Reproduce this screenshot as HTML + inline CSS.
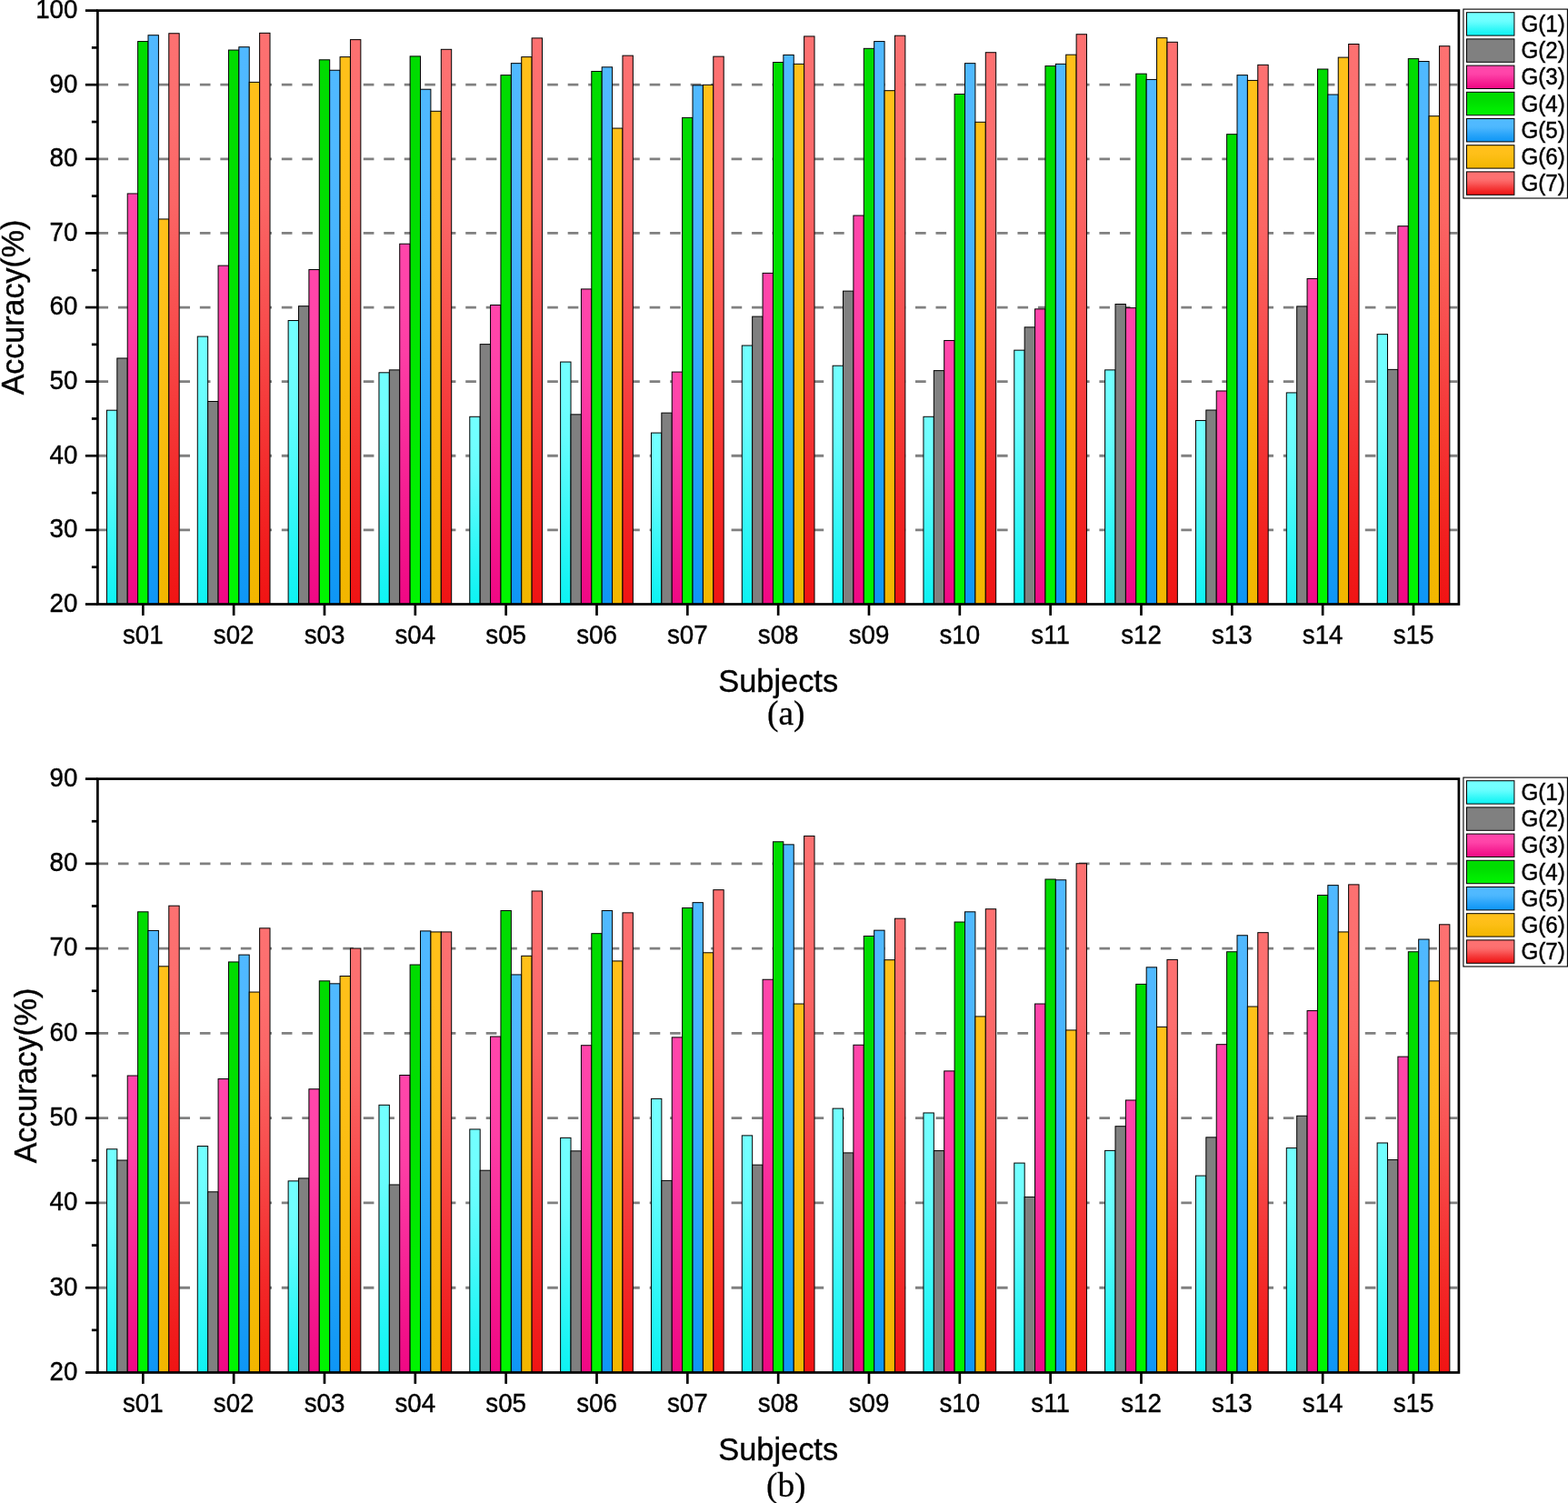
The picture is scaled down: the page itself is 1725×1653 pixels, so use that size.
<!DOCTYPE html>
<html lang="en">
<head>
<meta charset="utf-8">
<title>Accuracy per subject</title>
<style>
html,body{margin:0;padding:0;background:#fff}
body{width:1725px;height:1653px;overflow:hidden}
svg{display:block}
text{white-space:pre}
</style>
</head>
<body>
<svg width="1725" height="1653" viewBox="0 0 1725 1653">
<defs>
<linearGradient id="g0" x1="0" y1="0" x2="0" y2="1"><stop offset="0" stop-color="#73ffff"/><stop offset="0.15" stop-color="#70ffff"/><stop offset="0.3" stop-color="#66fdfd"/><stop offset="0.5" stop-color="#4dfafa"/><stop offset="0.67" stop-color="#35f8f8"/><stop offset="0.8" stop-color="#24f6f6"/><stop offset="0.91" stop-color="#17f4f4"/><stop offset="1" stop-color="#0ef3f3"/></linearGradient>
<linearGradient id="l0" x1="0" y1="0" x2="0" y2="1"><stop offset="0" stop-color="#73ffff"/><stop offset="0.27" stop-color="#73ffff"/><stop offset="0.38" stop-color="#6cfefe"/><stop offset="0.5" stop-color="#5afcfc"/><stop offset="0.67" stop-color="#3cf9f9"/><stop offset="0.8" stop-color="#28f6f6"/><stop offset="0.91" stop-color="#19f4f4"/><stop offset="1" stop-color="#0ef3f3"/></linearGradient>
<linearGradient id="g1" x1="0" y1="0" x2="0" y2="1"><stop offset="0" stop-color="#808080"/></linearGradient>
<linearGradient id="l1" x1="0" y1="0" x2="0" y2="1"><stop offset="0" stop-color="#808080"/></linearGradient>
<linearGradient id="g2" x1="0" y1="0" x2="0" y2="1"><stop offset="0" stop-color="#ff46aa"/><stop offset="0.15" stop-color="#ff44a9"/><stop offset="0.3" stop-color="#fd3ea5"/><stop offset="0.5" stop-color="#f92e9c"/><stop offset="0.67" stop-color="#f62093"/><stop offset="0.8" stop-color="#f3168c"/><stop offset="0.91" stop-color="#f10e87"/><stop offset="1" stop-color="#f00884"/></linearGradient>
<linearGradient id="l2" x1="0" y1="0" x2="0" y2="1"><stop offset="0" stop-color="#ff46aa"/><stop offset="0.27" stop-color="#ff46aa"/><stop offset="0.38" stop-color="#fe42a7"/><stop offset="0.5" stop-color="#fb36a0"/><stop offset="0.67" stop-color="#f72595"/><stop offset="0.8" stop-color="#f4188e"/><stop offset="0.91" stop-color="#f20f88"/><stop offset="1" stop-color="#f00884"/></linearGradient>
<linearGradient id="g3" x1="0" y1="0" x2="0" y2="1"><stop offset="0" stop-color="#00dc00"/><stop offset="0.15" stop-color="#00dd00"/><stop offset="0.3" stop-color="#00df00"/><stop offset="0.5" stop-color="#00e600"/><stop offset="0.67" stop-color="#00eb00"/><stop offset="0.8" stop-color="#00f000"/><stop offset="0.91" stop-color="#00f300"/><stop offset="1" stop-color="#00f500"/></linearGradient>
<linearGradient id="l3" x1="0" y1="0" x2="0" y2="1"><stop offset="0" stop-color="#00dc00"/><stop offset="0.27" stop-color="#00dc00"/><stop offset="0.38" stop-color="#00de00"/><stop offset="0.5" stop-color="#00e200"/><stop offset="0.67" stop-color="#00ea00"/><stop offset="0.8" stop-color="#00ee00"/><stop offset="0.91" stop-color="#00f200"/><stop offset="1" stop-color="#00f500"/></linearGradient>
<linearGradient id="g4" x1="0" y1="0" x2="0" y2="1"><stop offset="0" stop-color="#50b9ff"/><stop offset="0.15" stop-color="#4eb8ff"/><stop offset="0.3" stop-color="#47b4fe"/><stop offset="0.5" stop-color="#37acfb"/><stop offset="0.67" stop-color="#28a4f9"/><stop offset="0.8" stop-color="#1d9ef7"/><stop offset="0.91" stop-color="#1499f6"/><stop offset="1" stop-color="#0e96f5"/></linearGradient>
<linearGradient id="l4" x1="0" y1="0" x2="0" y2="1"><stop offset="0" stop-color="#50b9ff"/><stop offset="0.27" stop-color="#50b9ff"/><stop offset="0.38" stop-color="#4bb7fe"/><stop offset="0.5" stop-color="#40b0fc"/><stop offset="0.67" stop-color="#2ca6fa"/><stop offset="0.8" stop-color="#1f9ff8"/><stop offset="0.91" stop-color="#159af6"/><stop offset="1" stop-color="#0e96f5"/></linearGradient>
<linearGradient id="g5" x1="0" y1="0" x2="0" y2="1"><stop offset="0" stop-color="#ffc01a"/><stop offset="0.15" stop-color="#ffc019"/><stop offset="0.3" stop-color="#fdbf17"/><stop offset="0.5" stop-color="#fabc10"/><stop offset="0.67" stop-color="#f7ba0a"/><stop offset="0.8" stop-color="#f5b806"/><stop offset="0.91" stop-color="#f3b702"/><stop offset="1" stop-color="#f2b600"/></linearGradient>
<linearGradient id="l5" x1="0" y1="0" x2="0" y2="1"><stop offset="0" stop-color="#ffc01a"/><stop offset="0.27" stop-color="#ffc01a"/><stop offset="0.38" stop-color="#febf18"/><stop offset="0.5" stop-color="#fcbe14"/><stop offset="0.67" stop-color="#f8bb0c"/><stop offset="0.8" stop-color="#f5b907"/><stop offset="0.91" stop-color="#f3b703"/><stop offset="1" stop-color="#f2b600"/></linearGradient>
<linearGradient id="g6" x1="0" y1="0" x2="0" y2="1"><stop offset="0" stop-color="#fd7171"/><stop offset="0.15" stop-color="#fd6e6e"/><stop offset="0.3" stop-color="#fb6565"/><stop offset="0.5" stop-color="#f84e4e"/><stop offset="0.67" stop-color="#f53838"/><stop offset="0.8" stop-color="#f32828"/><stop offset="0.91" stop-color="#f11c1c"/><stop offset="1" stop-color="#f01414"/></linearGradient>
<linearGradient id="l6" x1="0" y1="0" x2="0" y2="1"><stop offset="0" stop-color="#fd7171"/><stop offset="0.27" stop-color="#fd7171"/><stop offset="0.38" stop-color="#fc6a6a"/><stop offset="0.5" stop-color="#fa5a5a"/><stop offset="0.67" stop-color="#f63f3f"/><stop offset="0.8" stop-color="#f32c2c"/><stop offset="0.91" stop-color="#f11e1e"/><stop offset="1" stop-color="#f01414"/></linearGradient>
</defs>
<rect width="1725" height="1653" fill="#fff"/>
<g stroke="#808080" stroke-width="2.8" stroke-dasharray="11.65 10.84" fill="none">
<line x1="107.4" y1="582.89" x2="1604.9" y2="582.89"/>
<line x1="107.4" y1="501.27" x2="1604.9" y2="501.27"/>
<line x1="107.4" y1="419.66" x2="1604.9" y2="419.66"/>
<line x1="107.4" y1="338.05" x2="1604.9" y2="338.05"/>
<line x1="107.4" y1="256.44" x2="1604.9" y2="256.44"/>
<line x1="107.4" y1="174.82" x2="1604.9" y2="174.82"/>
<line x1="107.4" y1="93.21" x2="1604.9" y2="93.21"/>
</g>
<g stroke="#000" stroke-width="1">
<rect x="117.45" y="451.19" width="11.39" height="213.31" fill="url(#g0)"/>
<rect x="128.84" y="393.98" width="11.39" height="270.52" fill="url(#g1)"/>
<rect x="140.23" y="212.96" width="11.39" height="451.54" fill="url(#g2)"/>
<rect x="151.62" y="45.57" width="11.39" height="618.93" fill="url(#g3)"/>
<rect x="163.01" y="38.72" width="11.39" height="625.78" fill="url(#g4)"/>
<rect x="174.4" y="240.95" width="11.39" height="423.55" fill="url(#g5)"/>
<rect x="185.79" y="36.76" width="11.39" height="627.74" fill="url(#g6)"/>
<rect x="217.28" y="370.07" width="11.39" height="294.43" fill="url(#g0)"/>
<rect x="228.67" y="441.48" width="11.39" height="223.02" fill="url(#g1)"/>
<rect x="240.06" y="292.13" width="11.39" height="372.37" fill="url(#g2)"/>
<rect x="251.45" y="55.04" width="11.39" height="609.46" fill="url(#g3)"/>
<rect x="262.84" y="51.7" width="11.39" height="612.8" fill="url(#g4)"/>
<rect x="274.23" y="90.38" width="11.39" height="574.12" fill="url(#g5)"/>
<rect x="285.62" y="36.35" width="11.39" height="628.15" fill="url(#g6)"/>
<rect x="317.12" y="352.52" width="11.39" height="311.98" fill="url(#g0)"/>
<rect x="328.51" y="336.69" width="11.39" height="327.81" fill="url(#g1)"/>
<rect x="339.9" y="296.53" width="11.39" height="367.97" fill="url(#g2)"/>
<rect x="351.29" y="65.81" width="11.39" height="598.69" fill="url(#g3)"/>
<rect x="362.68" y="77.24" width="11.39" height="587.26" fill="url(#g4)"/>
<rect x="374.07" y="62.63" width="11.39" height="601.87" fill="url(#g5)"/>
<rect x="385.46" y="43.62" width="11.39" height="620.88" fill="url(#g6)"/>
<rect x="416.95" y="409.81" width="11.39" height="254.69" fill="url(#g0)"/>
<rect x="428.34" y="406.87" width="11.39" height="257.63" fill="url(#g1)"/>
<rect x="439.73" y="268.21" width="11.39" height="396.29" fill="url(#g2)"/>
<rect x="451.12" y="61.9" width="11.39" height="602.6" fill="url(#g3)"/>
<rect x="462.51" y="98.21" width="11.39" height="566.29" fill="url(#g4)"/>
<rect x="473.9" y="122.29" width="11.39" height="542.21" fill="url(#g5)"/>
<rect x="485.29" y="54.31" width="11.39" height="610.19" fill="url(#g6)"/>
<rect x="516.78" y="458.29" width="11.39" height="206.21" fill="url(#g0)"/>
<rect x="528.17" y="378.63" width="11.39" height="285.87" fill="url(#g1)"/>
<rect x="539.56" y="335.46" width="11.39" height="329.04" fill="url(#g2)"/>
<rect x="550.95" y="82.63" width="11.39" height="581.87" fill="url(#g3)"/>
<rect x="562.35" y="69.65" width="11.39" height="594.85" fill="url(#g4)"/>
<rect x="573.74" y="62.63" width="11.39" height="601.87" fill="url(#g5)"/>
<rect x="585.12" y="41.9" width="11.39" height="622.6" fill="url(#g6)"/>
<rect x="616.62" y="398.06" width="11.39" height="266.44" fill="url(#g0)"/>
<rect x="628.01" y="455.84" width="11.39" height="208.66" fill="url(#g1)"/>
<rect x="639.4" y="317.92" width="11.39" height="346.58" fill="url(#g2)"/>
<rect x="650.79" y="78.46" width="11.39" height="586.04" fill="url(#g3)"/>
<rect x="662.18" y="73.81" width="11.39" height="590.69" fill="url(#g4)"/>
<rect x="673.57" y="141.06" width="11.39" height="523.44" fill="url(#g5)"/>
<rect x="684.96" y="61.16" width="11.39" height="603.34" fill="url(#g6)"/>
<rect x="716.45" y="476.08" width="11.39" height="188.42" fill="url(#g0)"/>
<rect x="727.84" y="454.13" width="11.39" height="210.37" fill="url(#g1)"/>
<rect x="739.23" y="409.08" width="11.39" height="255.42" fill="url(#g2)"/>
<rect x="750.62" y="129.39" width="11.39" height="535.11" fill="url(#g3)"/>
<rect x="762.01" y="93.81" width="11.39" height="570.69" fill="url(#g4)"/>
<rect x="773.4" y="93.32" width="11.39" height="571.18" fill="url(#g5)"/>
<rect x="784.79" y="62.14" width="11.39" height="602.36" fill="url(#g6)"/>
<rect x="816.28" y="380.02" width="11.39" height="284.48" fill="url(#g0)"/>
<rect x="827.67" y="348.11" width="11.39" height="316.39" fill="url(#g1)"/>
<rect x="839.06" y="300.37" width="11.39" height="364.13" fill="url(#g2)"/>
<rect x="850.45" y="68.51" width="11.39" height="595.99" fill="url(#g3)"/>
<rect x="861.85" y="60.43" width="11.39" height="604.07" fill="url(#g4)"/>
<rect x="873.24" y="70.38" width="11.39" height="594.12" fill="url(#g5)"/>
<rect x="884.62" y="39.94" width="11.39" height="624.56" fill="url(#g6)"/>
<rect x="916.12" y="402.22" width="11.39" height="262.28" fill="url(#g0)"/>
<rect x="927.51" y="320.12" width="11.39" height="344.38" fill="url(#g1)"/>
<rect x="938.9" y="237.04" width="11.39" height="427.46" fill="url(#g2)"/>
<rect x="950.29" y="53.33" width="11.39" height="611.17" fill="url(#g3)"/>
<rect x="961.68" y="45.57" width="11.39" height="618.93" fill="url(#g4)"/>
<rect x="973.07" y="99.68" width="11.39" height="564.82" fill="url(#g5)"/>
<rect x="984.46" y="39.21" width="11.39" height="625.29" fill="url(#g6)"/>
<rect x="1015.95" y="458.29" width="11.39" height="206.21" fill="url(#g0)"/>
<rect x="1027.34" y="407.61" width="11.39" height="256.89" fill="url(#g1)"/>
<rect x="1038.73" y="374.47" width="11.39" height="290.03" fill="url(#g2)"/>
<rect x="1050.12" y="103.52" width="11.39" height="560.98" fill="url(#g3)"/>
<rect x="1061.51" y="69.65" width="11.39" height="594.85" fill="url(#g4)"/>
<rect x="1072.9" y="134.29" width="11.39" height="530.21" fill="url(#g5)"/>
<rect x="1084.29" y="57.73" width="11.39" height="606.77" fill="url(#g6)"/>
<rect x="1115.79" y="385.16" width="11.39" height="279.34" fill="url(#g0)"/>
<rect x="1127.18" y="359.86" width="11.39" height="304.64" fill="url(#g1)"/>
<rect x="1138.57" y="339.87" width="11.39" height="324.63" fill="url(#g2)"/>
<rect x="1149.96" y="72.59" width="11.39" height="591.91" fill="url(#g3)"/>
<rect x="1161.35" y="70.38" width="11.39" height="594.12" fill="url(#g4)"/>
<rect x="1172.74" y="60.18" width="11.39" height="604.32" fill="url(#g5)"/>
<rect x="1184.12" y="37.74" width="11.39" height="626.76" fill="url(#g6)"/>
<rect x="1215.62" y="406.87" width="11.39" height="257.63" fill="url(#g0)"/>
<rect x="1227.01" y="334.48" width="11.39" height="330.02" fill="url(#g1)"/>
<rect x="1238.4" y="338.64" width="11.39" height="325.86" fill="url(#g2)"/>
<rect x="1249.79" y="81.16" width="11.39" height="583.34" fill="url(#g3)"/>
<rect x="1261.18" y="87.44" width="11.39" height="577.06" fill="url(#g4)"/>
<rect x="1272.57" y="41.66" width="11.39" height="622.84" fill="url(#g5)"/>
<rect x="1283.96" y="46.31" width="11.39" height="618.19" fill="url(#g6)"/>
<rect x="1315.45" y="462.45" width="11.39" height="202.05" fill="url(#g0)"/>
<rect x="1326.84" y="451.03" width="11.39" height="213.47" fill="url(#g1)"/>
<rect x="1338.23" y="429.97" width="11.39" height="234.53" fill="url(#g2)"/>
<rect x="1349.62" y="147.67" width="11.39" height="516.83" fill="url(#g3)"/>
<rect x="1361.01" y="82.63" width="11.39" height="581.87" fill="url(#g4)"/>
<rect x="1372.4" y="88.42" width="11.39" height="576.08" fill="url(#g5)"/>
<rect x="1383.79" y="71.36" width="11.39" height="593.14" fill="url(#g6)"/>
<rect x="1415.29" y="431.93" width="11.39" height="232.57" fill="url(#g0)"/>
<rect x="1426.68" y="336.93" width="11.39" height="327.57" fill="url(#g1)"/>
<rect x="1438.07" y="306.49" width="11.39" height="358.01" fill="url(#g2)"/>
<rect x="1449.46" y="76.02" width="11.39" height="588.48" fill="url(#g3)"/>
<rect x="1460.85" y="104.01" width="11.39" height="560.49" fill="url(#g4)"/>
<rect x="1472.24" y="63.12" width="11.39" height="601.38" fill="url(#g5)"/>
<rect x="1483.62" y="48.51" width="11.39" height="615.99" fill="url(#g6)"/>
<rect x="1515.12" y="367.62" width="11.39" height="296.88" fill="url(#g0)"/>
<rect x="1526.51" y="406.38" width="11.39" height="258.12" fill="url(#g1)"/>
<rect x="1537.9" y="248.71" width="11.39" height="415.79" fill="url(#g2)"/>
<rect x="1549.29" y="64.59" width="11.39" height="599.91" fill="url(#g3)"/>
<rect x="1560.68" y="67.53" width="11.39" height="596.97" fill="url(#g4)"/>
<rect x="1572.07" y="127.68" width="11.39" height="536.82" fill="url(#g5)"/>
<rect x="1583.46" y="50.72" width="11.39" height="613.78" fill="url(#g6)"/>
</g>
<g stroke="#000" stroke-width="2.7" fill="none">
<line x1="93.9" y1="664.5" x2="107.4" y2="664.5"/>
<line x1="100.9" y1="623.69" x2="107.4" y2="623.69"/>
<line x1="93.9" y1="582.89" x2="107.4" y2="582.89"/>
<line x1="100.9" y1="542.08" x2="107.4" y2="542.08"/>
<line x1="93.9" y1="501.27" x2="107.4" y2="501.27"/>
<line x1="100.9" y1="460.47" x2="107.4" y2="460.47"/>
<line x1="93.9" y1="419.66" x2="107.4" y2="419.66"/>
<line x1="100.9" y1="378.86" x2="107.4" y2="378.86"/>
<line x1="93.9" y1="338.05" x2="107.4" y2="338.05"/>
<line x1="100.9" y1="297.24" x2="107.4" y2="297.24"/>
<line x1="93.9" y1="256.44" x2="107.4" y2="256.44"/>
<line x1="100.9" y1="215.63" x2="107.4" y2="215.63"/>
<line x1="93.9" y1="174.82" x2="107.4" y2="174.82"/>
<line x1="100.9" y1="134.02" x2="107.4" y2="134.02"/>
<line x1="93.9" y1="93.21" x2="107.4" y2="93.21"/>
<line x1="100.9" y1="52.41" x2="107.4" y2="52.41"/>
<line x1="93.9" y1="11.6" x2="107.4" y2="11.6"/>
<line x1="157.32" y1="664.5" x2="157.32" y2="676.9"/>
<line x1="257.15" y1="664.5" x2="257.15" y2="676.9"/>
<line x1="356.98" y1="664.5" x2="356.98" y2="676.9"/>
<line x1="456.82" y1="664.5" x2="456.82" y2="676.9"/>
<line x1="556.65" y1="664.5" x2="556.65" y2="676.9"/>
<line x1="656.48" y1="664.5" x2="656.48" y2="676.9"/>
<line x1="756.32" y1="664.5" x2="756.32" y2="676.9"/>
<line x1="856.15" y1="664.5" x2="856.15" y2="676.9"/>
<line x1="955.98" y1="664.5" x2="955.98" y2="676.9"/>
<line x1="1055.82" y1="664.5" x2="1055.82" y2="676.9"/>
<line x1="1155.65" y1="664.5" x2="1155.65" y2="676.9"/>
<line x1="1255.48" y1="664.5" x2="1255.48" y2="676.9"/>
<line x1="1355.32" y1="664.5" x2="1355.32" y2="676.9"/>
<line x1="1455.15" y1="664.5" x2="1455.15" y2="676.9"/>
<line x1="1554.98" y1="664.5" x2="1554.98" y2="676.9"/>
<rect x="107.4" y="11.6" width="1497.5" height="652.9"/>
</g>
<g font-family="'Liberation Sans', sans-serif" font-size="27.7" fill="#000">
<g text-anchor="end">
<text transform="translate(85.4 672.8) scale(1 1.06)" text-anchor="end" font-family="'Liberation Sans', sans-serif" font-size="27.7" fill="#000" stroke="#000" stroke-width="0.4">20</text>
<text transform="translate(85.4 591.19) scale(1 1.06)" text-anchor="end" font-family="'Liberation Sans', sans-serif" font-size="27.7" fill="#000" stroke="#000" stroke-width="0.4">30</text>
<text transform="translate(85.4 509.57) scale(1 1.06)" text-anchor="end" font-family="'Liberation Sans', sans-serif" font-size="27.7" fill="#000" stroke="#000" stroke-width="0.4">40</text>
<text transform="translate(85.4 427.96) scale(1 1.06)" text-anchor="end" font-family="'Liberation Sans', sans-serif" font-size="27.7" fill="#000" stroke="#000" stroke-width="0.4">50</text>
<text transform="translate(85.4 346.35) scale(1 1.06)" text-anchor="end" font-family="'Liberation Sans', sans-serif" font-size="27.7" fill="#000" stroke="#000" stroke-width="0.4">60</text>
<text transform="translate(85.4 264.74) scale(1 1.06)" text-anchor="end" font-family="'Liberation Sans', sans-serif" font-size="27.7" fill="#000" stroke="#000" stroke-width="0.4">70</text>
<text transform="translate(85.4 183.12) scale(1 1.06)" text-anchor="end" font-family="'Liberation Sans', sans-serif" font-size="27.7" fill="#000" stroke="#000" stroke-width="0.4">80</text>
<text transform="translate(85.4 101.51) scale(1 1.06)" text-anchor="end" font-family="'Liberation Sans', sans-serif" font-size="27.7" fill="#000" stroke="#000" stroke-width="0.4">90</text>
<text transform="translate(85.4 19.9) scale(1 1.06)" text-anchor="end" font-family="'Liberation Sans', sans-serif" font-size="27.7" fill="#000" stroke="#000" stroke-width="0.4">100</text>
</g>
<g text-anchor="middle">
<text transform="translate(157.32 707.9) scale(1 1.06)" text-anchor="middle" font-family="'Liberation Sans', sans-serif" font-size="27.7" fill="#000" stroke="#000" stroke-width="0.4">s01</text>
<text transform="translate(257.15 707.9) scale(1 1.06)" text-anchor="middle" font-family="'Liberation Sans', sans-serif" font-size="27.7" fill="#000" stroke="#000" stroke-width="0.4">s02</text>
<text transform="translate(356.98 707.9) scale(1 1.06)" text-anchor="middle" font-family="'Liberation Sans', sans-serif" font-size="27.7" fill="#000" stroke="#000" stroke-width="0.4">s03</text>
<text transform="translate(456.82 707.9) scale(1 1.06)" text-anchor="middle" font-family="'Liberation Sans', sans-serif" font-size="27.7" fill="#000" stroke="#000" stroke-width="0.4">s04</text>
<text transform="translate(556.65 707.9) scale(1 1.06)" text-anchor="middle" font-family="'Liberation Sans', sans-serif" font-size="27.7" fill="#000" stroke="#000" stroke-width="0.4">s05</text>
<text transform="translate(656.48 707.9) scale(1 1.06)" text-anchor="middle" font-family="'Liberation Sans', sans-serif" font-size="27.7" fill="#000" stroke="#000" stroke-width="0.4">s06</text>
<text transform="translate(756.32 707.9) scale(1 1.06)" text-anchor="middle" font-family="'Liberation Sans', sans-serif" font-size="27.7" fill="#000" stroke="#000" stroke-width="0.4">s07</text>
<text transform="translate(856.15 707.9) scale(1 1.06)" text-anchor="middle" font-family="'Liberation Sans', sans-serif" font-size="27.7" fill="#000" stroke="#000" stroke-width="0.4">s08</text>
<text transform="translate(955.98 707.9) scale(1 1.06)" text-anchor="middle" font-family="'Liberation Sans', sans-serif" font-size="27.7" fill="#000" stroke="#000" stroke-width="0.4">s09</text>
<text transform="translate(1055.82 707.9) scale(1 1.06)" text-anchor="middle" font-family="'Liberation Sans', sans-serif" font-size="27.7" fill="#000" stroke="#000" stroke-width="0.4">s10</text>
<text transform="translate(1155.65 707.9) scale(1 1.06)" text-anchor="middle" font-family="'Liberation Sans', sans-serif" font-size="27.7" fill="#000" stroke="#000" stroke-width="0.4">s11</text>
<text transform="translate(1255.48 707.9) scale(1 1.06)" text-anchor="middle" font-family="'Liberation Sans', sans-serif" font-size="27.7" fill="#000" stroke="#000" stroke-width="0.4">s12</text>
<text transform="translate(1355.32 707.9) scale(1 1.06)" text-anchor="middle" font-family="'Liberation Sans', sans-serif" font-size="27.7" fill="#000" stroke="#000" stroke-width="0.4">s13</text>
<text transform="translate(1455.15 707.9) scale(1 1.06)" text-anchor="middle" font-family="'Liberation Sans', sans-serif" font-size="27.7" fill="#000" stroke="#000" stroke-width="0.4">s14</text>
<text transform="translate(1554.98 707.9) scale(1 1.06)" text-anchor="middle" font-family="'Liberation Sans', sans-serif" font-size="27.7" fill="#000" stroke="#000" stroke-width="0.4">s15</text>
</g>
</g>
<text transform="translate(856.15 760.5) scale(1 1.04)" text-anchor="middle" font-family="'Liberation Sans', sans-serif" font-size="34.4" fill="#000" stroke="#000" stroke-width="0.4">Subjects</text>
<clipPath id="cp11"><rect x="0.3" y="11.6" width="60" height="652.9"/></clipPath>
<g clip-path="url(#cp11)">
<text transform="translate(25.5 338.05) rotate(-90) scale(1 1.04)" text-anchor="middle" font-family="'Liberation Sans', sans-serif" font-size="34" fill="#000" stroke="#000" stroke-width="0.4">Accuracy(%)</text>
</g>
<text transform="translate(864.8 797.2)" text-anchor="middle" font-family="'Liberation Serif', serif" font-size="37.3" fill="#000" stroke="#000" stroke-width="0.3">(a)</text>
<rect x="1609.9" y="10.1" width="114.5" height="207.9" fill="#fff" stroke="#000" stroke-width="1.1"/>
<g stroke="#000" stroke-width="1">
<rect x="1613.5" y="13.7" width="52.4" height="25.4" fill="url(#l0)"/>
<rect x="1613.5" y="42.9" width="52.4" height="25.4" fill="url(#l1)"/>
<rect x="1613.5" y="72.1" width="52.4" height="25.4" fill="url(#l2)"/>
<rect x="1613.5" y="101.3" width="52.4" height="25.4" fill="url(#l3)"/>
<rect x="1613.5" y="130.5" width="52.4" height="25.4" fill="url(#l4)"/>
<rect x="1613.5" y="159.7" width="52.4" height="25.4" fill="url(#l5)"/>
<rect x="1613.5" y="188.9" width="52.4" height="25.4" fill="url(#l6)"/>
</g>
<g font-family="'Liberation Sans', sans-serif" font-size="24.2" fill="#000">
<text transform="translate(1673.4 35) scale(1 1.04)" font-family="'Liberation Sans', sans-serif" font-size="24.2" fill="#000" stroke="#000" stroke-width="0.4">G(1)</text>
<text transform="translate(1673.4 64.2) scale(1 1.04)" font-family="'Liberation Sans', sans-serif" font-size="24.2" fill="#000" stroke="#000" stroke-width="0.4">G(2)</text>
<text transform="translate(1673.4 93.4) scale(1 1.04)" font-family="'Liberation Sans', sans-serif" font-size="24.2" fill="#000" stroke="#000" stroke-width="0.4">G(3)</text>
<text transform="translate(1673.4 122.6) scale(1 1.04)" font-family="'Liberation Sans', sans-serif" font-size="24.2" fill="#000" stroke="#000" stroke-width="0.4">G(4)</text>
<text transform="translate(1673.4 151.8) scale(1 1.04)" font-family="'Liberation Sans', sans-serif" font-size="24.2" fill="#000" stroke="#000" stroke-width="0.4">G(5)</text>
<text transform="translate(1673.4 181) scale(1 1.04)" font-family="'Liberation Sans', sans-serif" font-size="24.2" fill="#000" stroke="#000" stroke-width="0.4">G(6)</text>
<text transform="translate(1673.4 210.2) scale(1 1.04)" font-family="'Liberation Sans', sans-serif" font-size="24.2" fill="#000" stroke="#000" stroke-width="0.4">G(7)</text>
</g>
<g stroke="#808080" stroke-width="2.8" stroke-dasharray="11.65 10.84" fill="none">
<line x1="107.4" y1="1416.23" x2="1604.9" y2="1416.23"/>
<line x1="107.4" y1="1322.96" x2="1604.9" y2="1322.96"/>
<line x1="107.4" y1="1229.69" x2="1604.9" y2="1229.69"/>
<line x1="107.4" y1="1136.41" x2="1604.9" y2="1136.41"/>
<line x1="107.4" y1="1043.14" x2="1604.9" y2="1043.14"/>
<line x1="107.4" y1="949.87" x2="1604.9" y2="949.87"/>
</g>
<g stroke="#000" stroke-width="1">
<rect x="117.45" y="1263.8" width="11.39" height="245.7" fill="url(#g0)"/>
<rect x="128.84" y="1276.02" width="11.39" height="233.48" fill="url(#g1)"/>
<rect x="140.23" y="1183.03" width="11.39" height="326.47" fill="url(#g2)"/>
<rect x="151.62" y="1002.83" width="11.39" height="506.67" fill="url(#g3)"/>
<rect x="163.01" y="1023.44" width="11.39" height="486.06" fill="url(#g4)"/>
<rect x="174.4" y="1062.8" width="11.39" height="446.7" fill="url(#g5)"/>
<rect x="185.79" y="996.2" width="11.39" height="513.3" fill="url(#g6)"/>
<rect x="217.28" y="1260.54" width="11.39" height="248.96" fill="url(#g0)"/>
<rect x="228.67" y="1310.81" width="11.39" height="198.69" fill="url(#g1)"/>
<rect x="240.06" y="1186.57" width="11.39" height="322.93" fill="url(#g2)"/>
<rect x="251.45" y="1057.95" width="11.39" height="451.55" fill="url(#g3)"/>
<rect x="262.84" y="1050.12" width="11.39" height="459.38" fill="url(#g4)"/>
<rect x="274.23" y="1091.06" width="11.39" height="418.44" fill="url(#g5)"/>
<rect x="285.62" y="1020.83" width="11.39" height="488.67" fill="url(#g6)"/>
<rect x="317.12" y="1298.87" width="11.39" height="210.63" fill="url(#g0)"/>
<rect x="328.51" y="1295.89" width="11.39" height="213.61" fill="url(#g1)"/>
<rect x="339.9" y="1197.76" width="11.39" height="311.74" fill="url(#g2)"/>
<rect x="351.29" y="1078.84" width="11.39" height="430.66" fill="url(#g3)"/>
<rect x="362.68" y="1081.83" width="11.39" height="427.67" fill="url(#g4)"/>
<rect x="374.07" y="1073.53" width="11.39" height="435.97" fill="url(#g5)"/>
<rect x="385.46" y="1043.03" width="11.39" height="466.47" fill="url(#g6)"/>
<rect x="416.95" y="1215.3" width="11.39" height="294.2" fill="url(#g0)"/>
<rect x="428.34" y="1302.97" width="11.39" height="206.53" fill="url(#g1)"/>
<rect x="439.73" y="1182.47" width="11.39" height="327.03" fill="url(#g2)"/>
<rect x="451.12" y="1061.03" width="11.39" height="448.47" fill="url(#g3)"/>
<rect x="462.51" y="1023.91" width="11.39" height="485.59" fill="url(#g4)"/>
<rect x="473.9" y="1024.93" width="11.39" height="484.57" fill="url(#g5)"/>
<rect x="485.29" y="1024.93" width="11.39" height="484.57" fill="url(#g6)"/>
<rect x="516.78" y="1241.97" width="11.39" height="267.53" fill="url(#g0)"/>
<rect x="528.17" y="1287.21" width="11.39" height="222.29" fill="url(#g1)"/>
<rect x="539.56" y="1140.03" width="11.39" height="369.47" fill="url(#g2)"/>
<rect x="550.95" y="1001.52" width="11.39" height="507.98" fill="url(#g3)"/>
<rect x="562.35" y="1071.94" width="11.39" height="437.56" fill="url(#g4)"/>
<rect x="573.74" y="1051.33" width="11.39" height="458.17" fill="url(#g5)"/>
<rect x="585.12" y="979.98" width="11.39" height="529.52" fill="url(#g6)"/>
<rect x="616.62" y="1251.39" width="11.39" height="258.11" fill="url(#g0)"/>
<rect x="628.01" y="1265.85" width="11.39" height="243.65" fill="url(#g1)"/>
<rect x="639.4" y="1149.73" width="11.39" height="359.77" fill="url(#g2)"/>
<rect x="650.79" y="1026.7" width="11.39" height="482.8" fill="url(#g3)"/>
<rect x="662.18" y="1001.52" width="11.39" height="507.98" fill="url(#g4)"/>
<rect x="673.57" y="1056.92" width="11.39" height="452.58" fill="url(#g5)"/>
<rect x="684.96" y="1003.85" width="11.39" height="505.65" fill="url(#g6)"/>
<rect x="716.45" y="1208.4" width="11.39" height="301.1" fill="url(#g0)"/>
<rect x="727.84" y="1298.4" width="11.39" height="211.1" fill="url(#g1)"/>
<rect x="739.23" y="1140.87" width="11.39" height="368.63" fill="url(#g2)"/>
<rect x="750.62" y="998.54" width="11.39" height="510.96" fill="url(#g3)"/>
<rect x="762.01" y="992.66" width="11.39" height="516.84" fill="url(#g4)"/>
<rect x="773.4" y="1047.78" width="11.39" height="461.72" fill="url(#g5)"/>
<rect x="784.79" y="978.67" width="11.39" height="530.83" fill="url(#g6)"/>
<rect x="816.28" y="1248.88" width="11.39" height="260.62" fill="url(#g0)"/>
<rect x="827.67" y="1281.15" width="11.39" height="228.35" fill="url(#g1)"/>
<rect x="839.06" y="1077.26" width="11.39" height="432.24" fill="url(#g2)"/>
<rect x="850.45" y="925.78" width="11.39" height="583.72" fill="url(#g3)"/>
<rect x="861.85" y="928.86" width="11.39" height="580.64" fill="url(#g4)"/>
<rect x="873.24" y="1104.03" width="11.39" height="405.47" fill="url(#g5)"/>
<rect x="884.62" y="919.44" width="11.39" height="590.06" fill="url(#g6)"/>
<rect x="916.12" y="1219.12" width="11.39" height="290.38" fill="url(#g0)"/>
<rect x="927.51" y="1267.9" width="11.39" height="241.6" fill="url(#g1)"/>
<rect x="938.9" y="1149.26" width="11.39" height="360.24" fill="url(#g2)"/>
<rect x="950.29" y="1029.5" width="11.39" height="480" fill="url(#g3)"/>
<rect x="961.68" y="1023.16" width="11.39" height="486.34" fill="url(#g4)"/>
<rect x="973.07" y="1055.71" width="11.39" height="453.79" fill="url(#g5)"/>
<rect x="984.46" y="1010.19" width="11.39" height="499.31" fill="url(#g6)"/>
<rect x="1015.95" y="1223.97" width="11.39" height="285.53" fill="url(#g0)"/>
<rect x="1027.34" y="1265.57" width="11.39" height="243.93" fill="url(#g1)"/>
<rect x="1038.73" y="1177.9" width="11.39" height="331.6" fill="url(#g2)"/>
<rect x="1050.12" y="1014.02" width="11.39" height="495.48" fill="url(#g3)"/>
<rect x="1061.51" y="1002.83" width="11.39" height="506.67" fill="url(#g4)"/>
<rect x="1072.9" y="1117.92" width="11.39" height="391.58" fill="url(#g5)"/>
<rect x="1084.29" y="999.75" width="11.39" height="509.75" fill="url(#g6)"/>
<rect x="1115.79" y="1279.1" width="11.39" height="230.4" fill="url(#g0)"/>
<rect x="1127.18" y="1316.41" width="11.39" height="193.09" fill="url(#g1)"/>
<rect x="1138.57" y="1104.03" width="11.39" height="405.47" fill="url(#g2)"/>
<rect x="1149.96" y="967.01" width="11.39" height="542.49" fill="url(#g3)"/>
<rect x="1161.35" y="967.76" width="11.39" height="541.74" fill="url(#g4)"/>
<rect x="1172.74" y="1132.94" width="11.39" height="376.56" fill="url(#g5)"/>
<rect x="1184.12" y="949.76" width="11.39" height="559.74" fill="url(#g6)"/>
<rect x="1215.62" y="1265.39" width="11.39" height="244.11" fill="url(#g0)"/>
<rect x="1227.01" y="1238.71" width="11.39" height="270.79" fill="url(#g1)"/>
<rect x="1238.4" y="1209.98" width="11.39" height="299.52" fill="url(#g2)"/>
<rect x="1249.79" y="1082.39" width="11.39" height="427.11" fill="url(#g3)"/>
<rect x="1261.18" y="1063.83" width="11.39" height="445.67" fill="url(#g4)"/>
<rect x="1272.57" y="1129.4" width="11.39" height="380.1" fill="url(#g5)"/>
<rect x="1283.96" y="1055.43" width="11.39" height="454.07" fill="url(#g6)"/>
<rect x="1315.45" y="1293.09" width="11.39" height="216.41" fill="url(#g0)"/>
<rect x="1326.84" y="1250.84" width="11.39" height="258.66" fill="url(#g1)"/>
<rect x="1338.23" y="1148.7" width="11.39" height="360.8" fill="url(#g2)"/>
<rect x="1349.62" y="1046.76" width="11.39" height="462.74" fill="url(#g3)"/>
<rect x="1361.01" y="1028.76" width="11.39" height="480.74" fill="url(#g4)"/>
<rect x="1372.4" y="1107.01" width="11.39" height="402.49" fill="url(#g5)"/>
<rect x="1383.79" y="1025.68" width="11.39" height="483.82" fill="url(#g6)"/>
<rect x="1415.29" y="1262.59" width="11.39" height="246.91" fill="url(#g0)"/>
<rect x="1426.68" y="1227.24" width="11.39" height="282.26" fill="url(#g1)"/>
<rect x="1438.07" y="1111.58" width="11.39" height="397.92" fill="url(#g2)"/>
<rect x="1449.46" y="984.55" width="11.39" height="524.95" fill="url(#g3)"/>
<rect x="1460.85" y="973.63" width="11.39" height="535.87" fill="url(#g4)"/>
<rect x="1472.24" y="1024.93" width="11.39" height="484.57" fill="url(#g5)"/>
<rect x="1483.62" y="972.89" width="11.39" height="536.61" fill="url(#g6)"/>
<rect x="1515.12" y="1256.99" width="11.39" height="252.51" fill="url(#g0)"/>
<rect x="1526.51" y="1275.55" width="11.39" height="233.95" fill="url(#g1)"/>
<rect x="1537.9" y="1162.13" width="11.39" height="347.37" fill="url(#g2)"/>
<rect x="1549.29" y="1046.76" width="11.39" height="462.74" fill="url(#g3)"/>
<rect x="1560.68" y="1033.05" width="11.39" height="476.45" fill="url(#g4)"/>
<rect x="1572.07" y="1078.84" width="11.39" height="430.66" fill="url(#g5)"/>
<rect x="1583.46" y="1016.82" width="11.39" height="492.68" fill="url(#g6)"/>
</g>
<g stroke="#000" stroke-width="2.7" fill="none">
<line x1="93.9" y1="1509.5" x2="107.4" y2="1509.5"/>
<line x1="100.9" y1="1462.86" x2="107.4" y2="1462.86"/>
<line x1="93.9" y1="1416.23" x2="107.4" y2="1416.23"/>
<line x1="100.9" y1="1369.59" x2="107.4" y2="1369.59"/>
<line x1="93.9" y1="1322.96" x2="107.4" y2="1322.96"/>
<line x1="100.9" y1="1276.32" x2="107.4" y2="1276.32"/>
<line x1="93.9" y1="1229.69" x2="107.4" y2="1229.69"/>
<line x1="100.9" y1="1183.05" x2="107.4" y2="1183.05"/>
<line x1="93.9" y1="1136.41" x2="107.4" y2="1136.41"/>
<line x1="100.9" y1="1089.78" x2="107.4" y2="1089.78"/>
<line x1="93.9" y1="1043.14" x2="107.4" y2="1043.14"/>
<line x1="100.9" y1="996.51" x2="107.4" y2="996.51"/>
<line x1="93.9" y1="949.87" x2="107.4" y2="949.87"/>
<line x1="100.9" y1="903.24" x2="107.4" y2="903.24"/>
<line x1="93.9" y1="856.6" x2="107.4" y2="856.6"/>
<line x1="157.32" y1="1509.5" x2="157.32" y2="1521.9"/>
<line x1="257.15" y1="1509.5" x2="257.15" y2="1521.9"/>
<line x1="356.98" y1="1509.5" x2="356.98" y2="1521.9"/>
<line x1="456.82" y1="1509.5" x2="456.82" y2="1521.9"/>
<line x1="556.65" y1="1509.5" x2="556.65" y2="1521.9"/>
<line x1="656.48" y1="1509.5" x2="656.48" y2="1521.9"/>
<line x1="756.32" y1="1509.5" x2="756.32" y2="1521.9"/>
<line x1="856.15" y1="1509.5" x2="856.15" y2="1521.9"/>
<line x1="955.98" y1="1509.5" x2="955.98" y2="1521.9"/>
<line x1="1055.82" y1="1509.5" x2="1055.82" y2="1521.9"/>
<line x1="1155.65" y1="1509.5" x2="1155.65" y2="1521.9"/>
<line x1="1255.48" y1="1509.5" x2="1255.48" y2="1521.9"/>
<line x1="1355.32" y1="1509.5" x2="1355.32" y2="1521.9"/>
<line x1="1455.15" y1="1509.5" x2="1455.15" y2="1521.9"/>
<line x1="1554.98" y1="1509.5" x2="1554.98" y2="1521.9"/>
<rect x="107.4" y="856.6" width="1497.5" height="652.9"/>
</g>
<g font-family="'Liberation Sans', sans-serif" font-size="27.7" fill="#000">
<g text-anchor="end">
<text transform="translate(85.4 1517.8) scale(1 1.06)" text-anchor="end" font-family="'Liberation Sans', sans-serif" font-size="27.7" fill="#000" stroke="#000" stroke-width="0.4">20</text>
<text transform="translate(85.4 1424.53) scale(1 1.06)" text-anchor="end" font-family="'Liberation Sans', sans-serif" font-size="27.7" fill="#000" stroke="#000" stroke-width="0.4">30</text>
<text transform="translate(85.4 1331.26) scale(1 1.06)" text-anchor="end" font-family="'Liberation Sans', sans-serif" font-size="27.7" fill="#000" stroke="#000" stroke-width="0.4">40</text>
<text transform="translate(85.4 1237.99) scale(1 1.06)" text-anchor="end" font-family="'Liberation Sans', sans-serif" font-size="27.7" fill="#000" stroke="#000" stroke-width="0.4">50</text>
<text transform="translate(85.4 1144.71) scale(1 1.06)" text-anchor="end" font-family="'Liberation Sans', sans-serif" font-size="27.7" fill="#000" stroke="#000" stroke-width="0.4">60</text>
<text transform="translate(85.4 1051.44) scale(1 1.06)" text-anchor="end" font-family="'Liberation Sans', sans-serif" font-size="27.7" fill="#000" stroke="#000" stroke-width="0.4">70</text>
<text transform="translate(85.4 958.17) scale(1 1.06)" text-anchor="end" font-family="'Liberation Sans', sans-serif" font-size="27.7" fill="#000" stroke="#000" stroke-width="0.4">80</text>
<text transform="translate(85.4 864.9) scale(1 1.06)" text-anchor="end" font-family="'Liberation Sans', sans-serif" font-size="27.7" fill="#000" stroke="#000" stroke-width="0.4">90</text>
</g>
<g text-anchor="middle">
<text transform="translate(157.32 1552.9) scale(1 1.06)" text-anchor="middle" font-family="'Liberation Sans', sans-serif" font-size="27.7" fill="#000" stroke="#000" stroke-width="0.4">s01</text>
<text transform="translate(257.15 1552.9) scale(1 1.06)" text-anchor="middle" font-family="'Liberation Sans', sans-serif" font-size="27.7" fill="#000" stroke="#000" stroke-width="0.4">s02</text>
<text transform="translate(356.98 1552.9) scale(1 1.06)" text-anchor="middle" font-family="'Liberation Sans', sans-serif" font-size="27.7" fill="#000" stroke="#000" stroke-width="0.4">s03</text>
<text transform="translate(456.82 1552.9) scale(1 1.06)" text-anchor="middle" font-family="'Liberation Sans', sans-serif" font-size="27.7" fill="#000" stroke="#000" stroke-width="0.4">s04</text>
<text transform="translate(556.65 1552.9) scale(1 1.06)" text-anchor="middle" font-family="'Liberation Sans', sans-serif" font-size="27.7" fill="#000" stroke="#000" stroke-width="0.4">s05</text>
<text transform="translate(656.48 1552.9) scale(1 1.06)" text-anchor="middle" font-family="'Liberation Sans', sans-serif" font-size="27.7" fill="#000" stroke="#000" stroke-width="0.4">s06</text>
<text transform="translate(756.32 1552.9) scale(1 1.06)" text-anchor="middle" font-family="'Liberation Sans', sans-serif" font-size="27.7" fill="#000" stroke="#000" stroke-width="0.4">s07</text>
<text transform="translate(856.15 1552.9) scale(1 1.06)" text-anchor="middle" font-family="'Liberation Sans', sans-serif" font-size="27.7" fill="#000" stroke="#000" stroke-width="0.4">s08</text>
<text transform="translate(955.98 1552.9) scale(1 1.06)" text-anchor="middle" font-family="'Liberation Sans', sans-serif" font-size="27.7" fill="#000" stroke="#000" stroke-width="0.4">s09</text>
<text transform="translate(1055.82 1552.9) scale(1 1.06)" text-anchor="middle" font-family="'Liberation Sans', sans-serif" font-size="27.7" fill="#000" stroke="#000" stroke-width="0.4">s10</text>
<text transform="translate(1155.65 1552.9) scale(1 1.06)" text-anchor="middle" font-family="'Liberation Sans', sans-serif" font-size="27.7" fill="#000" stroke="#000" stroke-width="0.4">s11</text>
<text transform="translate(1255.48 1552.9) scale(1 1.06)" text-anchor="middle" font-family="'Liberation Sans', sans-serif" font-size="27.7" fill="#000" stroke="#000" stroke-width="0.4">s12</text>
<text transform="translate(1355.32 1552.9) scale(1 1.06)" text-anchor="middle" font-family="'Liberation Sans', sans-serif" font-size="27.7" fill="#000" stroke="#000" stroke-width="0.4">s13</text>
<text transform="translate(1455.15 1552.9) scale(1 1.06)" text-anchor="middle" font-family="'Liberation Sans', sans-serif" font-size="27.7" fill="#000" stroke="#000" stroke-width="0.4">s14</text>
<text transform="translate(1554.98 1552.9) scale(1 1.06)" text-anchor="middle" font-family="'Liberation Sans', sans-serif" font-size="27.7" fill="#000" stroke="#000" stroke-width="0.4">s15</text>
</g>
</g>
<text transform="translate(856.15 1605.5) scale(1 1.04)" text-anchor="middle" font-family="'Liberation Sans', sans-serif" font-size="34.4" fill="#000" stroke="#000" stroke-width="0.4">Subjects</text>
<clipPath id="cp856"><rect x="15" y="856.6" width="60" height="652.9"/></clipPath>
<g clip-path="url(#cp856)">
<text transform="translate(40.2 1183.05) rotate(-90) scale(1 1.04)" text-anchor="middle" font-family="'Liberation Sans', sans-serif" font-size="34" fill="#000" stroke="#000" stroke-width="0.4">Accuracy(%)</text>
</g>
<text transform="translate(864.8 1646)" text-anchor="middle" font-family="'Liberation Serif', serif" font-size="37.3" fill="#000" stroke="#000" stroke-width="0.3">(b)</text>
<rect x="1609.9" y="855.1" width="114.5" height="207.9" fill="#fff" stroke="#000" stroke-width="1.1"/>
<g stroke="#000" stroke-width="1">
<rect x="1613.5" y="858.7" width="52.4" height="25.4" fill="url(#l0)"/>
<rect x="1613.5" y="887.9" width="52.4" height="25.4" fill="url(#l1)"/>
<rect x="1613.5" y="917.1" width="52.4" height="25.4" fill="url(#l2)"/>
<rect x="1613.5" y="946.3" width="52.4" height="25.4" fill="url(#l3)"/>
<rect x="1613.5" y="975.5" width="52.4" height="25.4" fill="url(#l4)"/>
<rect x="1613.5" y="1004.7" width="52.4" height="25.4" fill="url(#l5)"/>
<rect x="1613.5" y="1033.9" width="52.4" height="25.4" fill="url(#l6)"/>
</g>
<g font-family="'Liberation Sans', sans-serif" font-size="24.2" fill="#000">
<text transform="translate(1673.4 880) scale(1 1.04)" font-family="'Liberation Sans', sans-serif" font-size="24.2" fill="#000" stroke="#000" stroke-width="0.4">G(1)</text>
<text transform="translate(1673.4 909.2) scale(1 1.04)" font-family="'Liberation Sans', sans-serif" font-size="24.2" fill="#000" stroke="#000" stroke-width="0.4">G(2)</text>
<text transform="translate(1673.4 938.4) scale(1 1.04)" font-family="'Liberation Sans', sans-serif" font-size="24.2" fill="#000" stroke="#000" stroke-width="0.4">G(3)</text>
<text transform="translate(1673.4 967.6) scale(1 1.04)" font-family="'Liberation Sans', sans-serif" font-size="24.2" fill="#000" stroke="#000" stroke-width="0.4">G(4)</text>
<text transform="translate(1673.4 996.8) scale(1 1.04)" font-family="'Liberation Sans', sans-serif" font-size="24.2" fill="#000" stroke="#000" stroke-width="0.4">G(5)</text>
<text transform="translate(1673.4 1026) scale(1 1.04)" font-family="'Liberation Sans', sans-serif" font-size="24.2" fill="#000" stroke="#000" stroke-width="0.4">G(6)</text>
<text transform="translate(1673.4 1055.2) scale(1 1.04)" font-family="'Liberation Sans', sans-serif" font-size="24.2" fill="#000" stroke="#000" stroke-width="0.4">G(7)</text>
</g>
</svg>
</body>
</html>
